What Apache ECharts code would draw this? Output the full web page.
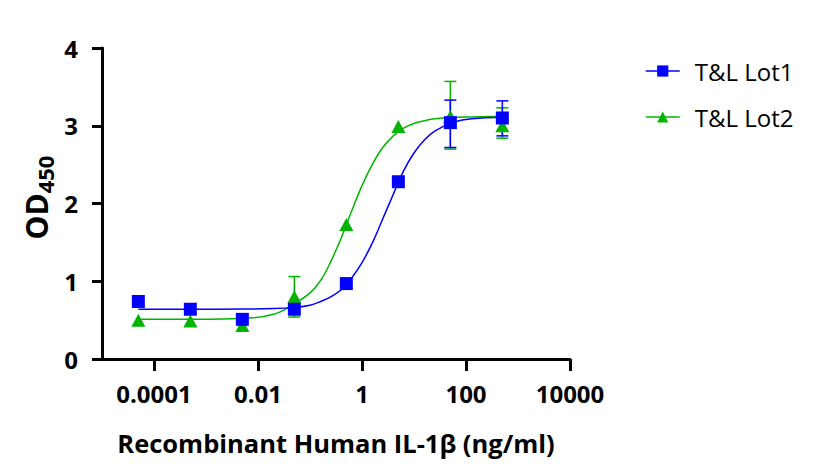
<!DOCTYPE html>
<html>
<head>
<meta charset="utf-8">
<script src="https://cdn.jsdelivr.net/npm/echarts@6.0.0/dist/echarts.min.js"></script>
<style>
    html, body { margin: 0; padding: 0; background: #fff; }
    #chart { width: 820px; height: 475px; }
</style>
</head>
<body>
<div id="chart"></div>
<script>
// concentrations (ng/ml), 10-fold dilutions
var conc = [0.00005, 0.0005, 0.005, 0.05, 0.5, 5, 50, 500];

// mean OD450 per lot
var lot1Mean = [0.74, 0.64, 0.51, 0.64, 0.97, 2.28, 3.04, 3.10];
var lot2Mean = [0.50, 0.49, 0.43, 0.80, 1.73, 2.99, 3.12, 3.00];

// error bars (null = hidden behind symbol)
var lot1Low = [null, null, null, null, null, null, 2.72, 2.87];
var lot1High = [null, null, null, null, null, null, 3.33, 3.32];
var lot2Low = [null, null, null, 0.54, null, null, 2.70, 2.84];
var lot2High = [null, null, null, 1.06, null, null, 3.57, 3.23];

// fitted curves
var curveConc = [0.00005, 0.0005, 0.005, 0.02, 0.05, 0.1, 0.16, 0.25, 0.4, 0.63, 1, 1.6, 2.5, 4, 6.3, 10, 16, 25, 50, 100, 200, 500];
var lot1Curve = [0.64, 0.64, 0.642, 0.648, 0.664, 0.692, 0.74, 0.80, 0.89, 1.04, 1.24, 1.50, 1.80, 2.12, 2.42, 2.65, 2.82, 2.93, 3.03, 3.08, 3.10, 3.11];
var lot2Curve = [0.51, 0.511, 0.521, 0.575, 0.71, 0.85, 1.01, 1.25, 1.56, 1.90, 2.23, 2.51, 2.72, 2.87, 2.97, 3.03, 3.065, 3.09, 3.105, 3.113, 3.117, 3.12];

// axis ticks
var xTicks = [0.0001, 0.01, 1, 100, 10000];
var xTickLabels = ['0.0001', '0.01', '1', '100', '10000'];

var BLUE = '#0000ff';
var GREEN = '#00b400';
var FONT = 'Open Sans';

function pairs(xs, ys) {
    var out = [];
    for (var i = 0; i < xs.length; i++) {
        out.push([xs[i], ys[i]]);
    }
    return out;
}

function errData(xs, lo, hi) {
    var out = [];
    for (var i = 0; i < xs.length; i++) {
        if (lo[i] != null) out.push([xs[i], lo[i], hi[i]]);
    }
    return out;
}

function errSeries(name, data, color) {
    return {
        name: name,
        type: 'custom',
        data: data,
        silent: true,
        encode: {x: 0, y: [1, 2]},
        renderItem: function (params, api) {
            var x = api.value(0);
            var lo = api.coord([x, api.value(1)]);
            var hi = api.coord([x, api.value(2)]);
            var cap = 6;
            var st = {stroke: color, lineWidth: 1.5};
            return {
                type: 'group',
                children: [
                    {type: 'line', shape: {x1: lo[0], y1: lo[1], x2: hi[0], y2: hi[1]}, style: st},
                    {type: 'line', shape: {x1: lo[0] - cap, y1: lo[1], x2: lo[0] + cap, y2: lo[1]}, style: st},
                    {type: 'line', shape: {x1: hi[0] - cap, y1: hi[1], x2: hi[0] + cap, y2: hi[1]}, style: st}
                ]
            };
        }
    };
}

var myChart = echarts.init(document.getElementById('chart'), null, {renderer: 'svg'});

var option = {
    animation: false,
    textStyle: {fontFamily: FONT},
    grid: {left: 102, right: 250, top: 48, bottom: 116, containLabel: false},
    legend: {
        orient: 'vertical',
        left: 640,
        top: 54,
        itemWidth: 34,
        itemHeight: 14,
        itemGap: 22,
        data: ['T&L Lot1', 'T&L Lot2'],
        lineStyle: {width: 1.5},
        textStyle: {fontFamily: FONT, fontSize: 24, color: '#000', padding: [0, 0, 0, 10]}
    },
    xAxis: {
        type: 'log',
        logBase: 10,
        min: 0.00001,
        max: 10000,
        name: 'Recombinant Human IL-1β (ng/ml)',
        nameLocation: 'middle',
        nameGap: 71,
        nameMoveOverlap: false,
        nameTextStyle: {fontFamily: FONT, fontSize: 25.5, fontWeight: 'bold', color: '#000'},
        axisLine: {lineStyle: {color: '#000', width: 3}},
        axisTick: {length: 12, lineStyle: {color: '#000', width: 3}, customValues: xTicks},
        axisLabel: {
            customValues: xTicks,
            margin: 22,
            fontFamily: FONT,
            fontSize: 24,
            fontWeight: 'bold',
            color: '#000',
            formatter: function (v) {
                var i = Math.round(Math.log10(v) / 2) + 2;
                return xTickLabels[i];
            }
        },
        splitLine: {show: false},
        minorTick: {show: false}
    },
    yAxis: {
        type: 'value',
        min: 0,
        max: 4,
        interval: 1,
        name: '{a|OD}{b|450}',
        nameLocation: 'middle',
        nameRotate: 90,
        nameGap: 46,
        nameMoveOverlap: false,
        nameTextStyle: {
            padding: [0, 0, 0, 12],
            rich: {
                a: {fontFamily: FONT, fontSize: 30, fontWeight: 'bold', color: '#000', lineHeight: 40},
                b: {fontFamily: FONT, fontSize: 22, fontWeight: 'bold', color: '#000', lineHeight: 20, verticalAlign: 'bottom'}
            }
        },
        axisLine: {show: true, lineStyle: {color: '#000', width: 3}},
        axisTick: {show: true, length: 10, lineStyle: {color: '#000', width: 3}},
        axisLabel: {margin: 24, fontFamily: FONT, fontSize: 24, fontWeight: 'bold', color: '#000'},
        splitLine: {show: false}
    },
    series: [
        {
            name: 'T&L Lot2',
            type: 'line',
            data: pairs(curveConc, lot2Curve),
            smooth: 0.4,
            showSymbol: false,
            symbol: 'triangle',
            color: GREEN,
            lineStyle: {color: GREEN, width: 1.5},
            silent: true,
            z: 2
        },
        errSeries('lot2err', errData(conc, lot2Low, lot2High), GREEN),
        {
            name: 'lot2pts',
            type: 'scatter',
            data: pairs(conc, lot2Mean),
            symbol: 'triangle',
            symbolSize: [14, 13],
            itemStyle: {color: GREEN, opacity: 1},
            z: 3
        },
        {
            name: 'T&L Lot1',
            type: 'line',
            data: pairs(curveConc, lot1Curve),
            smooth: 0.4,
            showSymbol: false,
            symbol: 'rect',
            color: BLUE,
            lineStyle: {color: BLUE, width: 1.5},
            silent: true,
            z: 4
        },
        errSeries('lot1err', errData(conc, lot1Low, lot1High), BLUE),
        {
            name: 'lot1pts',
            type: 'scatter',
            data: pairs(conc, lot1Mean),
            symbol: 'rect',
            symbolSize: 13,
            itemStyle: {color: BLUE, opacity: 1},
            z: 5
        }
    ]
};

myChart.setOption(option);

window.addEventListener('resize', function () {
    myChart.resize();
});
</script>
</body>
</html>
